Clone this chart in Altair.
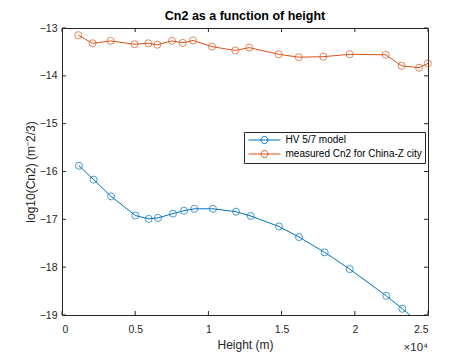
import altair as alt
import pandas as pd

# ---- data ----
series_names = ["HV 5/7 model", "measured Cn2 for China-Z city"]
series_colors = ["#0072BD", "#D95319"]

heights_model = [1160, 2160, 3350, 5010, 5920, 6560, 7580, 8330, 9040, 10310,
                 11890, 12890, 14820, 16190, 17940, 19650, 22150, 23250, 24400]
cn2_model = [-15.88, -16.17, -16.52, -16.92, -16.99, -16.97, -16.88, -16.82, -16.78, -16.78,
             -16.84, -16.93, -17.15, -17.37, -17.69, -18.04, -18.60, -18.87, -19.17]

heights_measured = [1110, 2090, 3320, 4960, 5900, 6510, 7510, 8240, 8950, 10250,
                    11840, 12790, 14800, 16170, 17850, 19650, 22110, 23200, 24390, 25000]
cn2_measured = [-13.15, -13.32, -13.27, -13.34, -13.32, -13.35, -13.27, -13.31, -13.26, -13.39,
                -13.47, -13.41, -13.55, -13.61, -13.60, -13.55, -13.56, -13.79, -13.83, -13.74]

x_ticks = [0, 5000, 10000, 15000, 20000, 25000]
y_ticks = [-19, -18, -17, -16, -15, -14, -13]

W, H = 366, 287
FONT = "Liberation Sans"
AXIS_COLOR = "#262626"

df = pd.concat([
    pd.DataFrame({"h": heights_model, "v": cn2_model, "s": series_names[0]}),
    pd.DataFrame({"h": heights_measured, "v": cn2_measured, "s": series_names[1]}),
])
xt = pd.DataFrame({"t": x_ticks})
yt = pd.DataFrame({"t": y_ticks})

xscale = alt.Scale(domain=[0, 25000], nice=False)
yscale = alt.Scale(domain=[-19, -13], nice=False)

# line through a hollow circle (unit = circle radius)
legend_symbol = ("M-4.57,0L4.57,0"
                 "M1,0A1,1,0,1,1,-1,0A1,1,0,1,1,1,0")

color = alt.Color(
    "s:N",
    scale=alt.Scale(domain=series_names, range=series_colors),
    legend=alt.Legend(
        title=None, orient="none", legendX=182, legendY=104,
        symbolType=legend_symbol, symbolSize=49, symbolStrokeWidth=1,
        symbolFillColor="transparent", symbolOffset=12.5,
        labelFont=FONT, labelFontSize=10, labelColor="#000000", labelOffset=16,
        padding=3, rowPadding=2, strokeColor="#262626", fillColor="#ffffff",
        cornerRadius=0,
    ),
)

x_enc = alt.X("h:Q", scale=xscale,
              axis=alt.Axis(values=x_ticks, labelExpr="datum.value / 10000",
                            title="Height (m)", ticks=False, domain=False, grid=False,
                            labelPadding=9, titlePadding=5))
y_enc = alt.Y("v:Q", scale=yscale,
              axis=alt.Axis(values=y_ticks, title="log10(Cn2) (m⁻2/3)",
                            ticks=False, domain=False, grid=False,
                            labelPadding=5, titlePadding=2))

lines = alt.Chart(df).mark_line(strokeWidth=1, clip=True).encode(
    x=x_enc, y=y_enc, color=color, detail="s:N", order="h:Q")
points = alt.Chart(df).transform_filter("datum.v >= -19").mark_point(
    shape="circle", filled=False, size=50, strokeWidth=1).encode(
    x=alt.X("h:Q", scale=xscale), y=alt.Y("v:Q", scale=yscale),
    color=alt.Color("s:N", scale=alt.Scale(domain=series_names, range=series_colors), legend=None))

tick_len = 4
xb = alt.Chart(xt).mark_rule(color=AXIS_COLOR, strokeWidth=1).encode(
    x=alt.X("t:Q", scale=xscale), y=alt.value(H), y2=alt.value(H - tick_len))
xtop = alt.Chart(xt).mark_rule(color=AXIS_COLOR, strokeWidth=1).encode(
    x=alt.X("t:Q", scale=xscale), y=alt.value(0), y2=alt.value(tick_len))
yl = alt.Chart(yt).mark_rule(color=AXIS_COLOR, strokeWidth=1).encode(
    y=alt.Y("t:Q", scale=yscale), x=alt.value(0), x2=alt.value(tick_len))
yr = alt.Chart(yt).mark_rule(color=AXIS_COLOR, strokeWidth=1).encode(
    y=alt.Y("t:Q", scale=yscale), x=alt.value(W), x2=alt.value(W - tick_len))

exponent = alt.Chart(pd.DataFrame({"txt": ["×10⁴"]})).mark_text(
    align="right", baseline="middle", font=FONT, fontSize=11.5, color=AXIS_COLOR).encode(
    text="txt:N", x=alt.value(W), y=alt.value(H + 33))

chart = alt.layer(lines, points, xb, xtop, yl, yr, exponent).properties(
    width=W, height=H,
    title=alt.TitleParams("Cn2 as a function of height", font=FONT, fontSize=12.5,
                          fontWeight="bold", color="#000000", anchor="middle", offset=1),
    autosize=alt.AutoSizeParams(type="none"),
    padding={"left": 62, "top": 28, "right": 46, "bottom": 40},
    background="#ffffff",
).configure_view(stroke=AXIS_COLOR, strokeWidth=1).configure_axis(
    labelFont=FONT, labelFontSize=10.5, labelColor=AXIS_COLOR,
    titleFont=FONT, titleFontSize=12, titleColor=AXIS_COLOR, titleFontWeight="normal",
)

chart.save("out.html", embed_options={"renderer": "svg", "actions": False})
